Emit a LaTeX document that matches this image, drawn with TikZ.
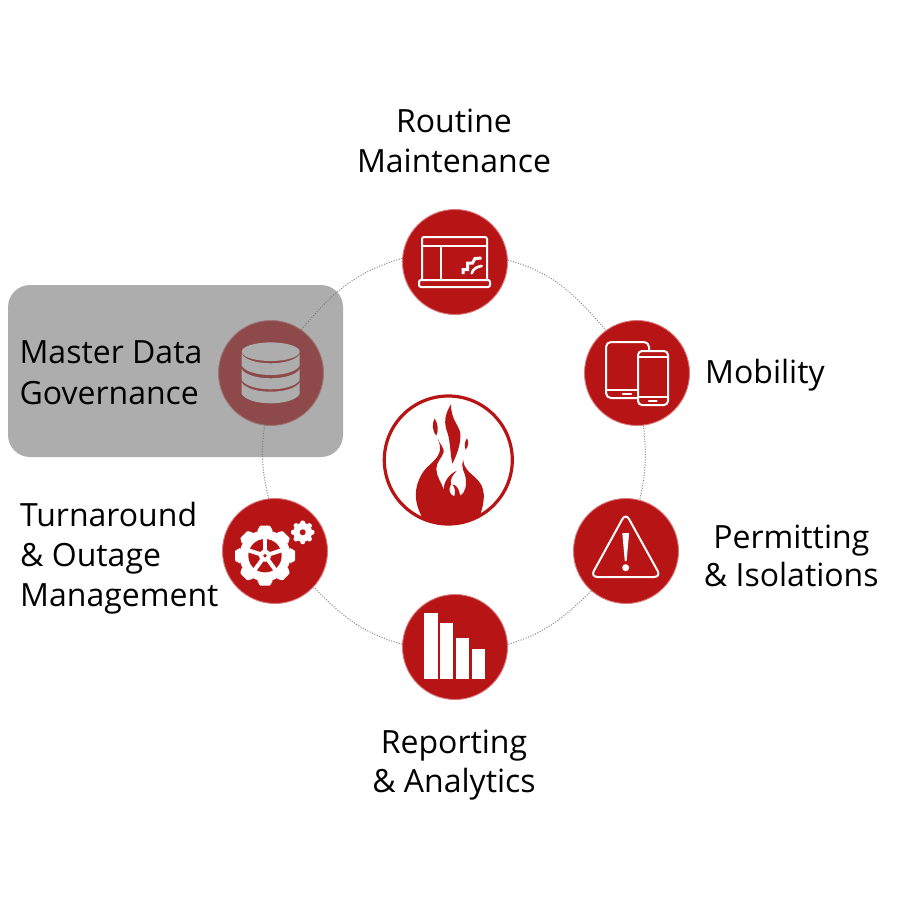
\documentclass[tikz,border=0pt]{standalone}
\usepackage{fontspec}
\setmainfont{Open Sans}
\definecolor{fire}{HTML}{B71515}
\definecolor{rimc}{HTML}{D9777A}
\definecolor{veil}{HTML}{727272}
\tikzset{
  hub/.style={circle,fill=fire,draw=rimc,line width=0.9pt,minimum size=105pt,inner sep=0pt},
  core/.style={circle,fill=white,draw=fire,line width=3.2pt,minimum size=128pt,inner sep=0pt},
  ring/.style={draw=black!48,line width=1pt,dash pattern=on 1pt off 1.6pt},
  iconline/.style={draw=white,line width=2pt,line join=round,line cap=round},
  label/.style={text=black,font=\fontsize{32}{40}\selectfont,inner sep=0pt,align=center},
  leftlabel/.style={label,align=left},
  veilbox/.style={fill=veil,fill opacity=0.58,rounded corners=22pt,minimum width=335pt,minimum height=172pt,inner sep=0pt}
}
\newcommand{\gearshape}[6]{%
  \begin{scope}[shift={(#1,#2)}]
    \fill[white] (0,0) circle (#3);
    \foreach \a in {0,45,...,315}{
      \fill[white,rotate=\a,rounded corners=0.8pt] (-#5,-#3+1) -- (-#6,-#4) -- (#6,-#4) -- (#5,-#3+1) -- cycle;
    }
  \end{scope}}
\begin{document}
\begin{tikzpicture}[x=1pt,y=-1pt]
\useasboundingbox (0,0) rectangle (900,900);
\fill[white] (0,0) rectangle (900,900);
% hubs
\node[hub] (top) at (455,262) {};
\node[hub] (mob) at (637,373) {};
\node[hub] (per) at (626,551) {};
\node[hub] (rep) at (455,647) {};
\node[hub] (tur) at (275,551) {};
\node[hub] (mas) at (271,373) {};
\node[core] (cen) at (448.3,460) {};
% connectors
\draw[ring] (top.2) to[out=-15,in=131] (mob.126);
\draw[ring] (mob.-83) to[out=-84,in=77] (per.75);
\draw[ring] (per.229) to[out=-136,in=16] (rep.3);
\draw[ring] (rep.177) to[out=164,in=-46] (tur.-43);
\draw[ring] (tur.97) to[out=103,in=-98] (mas.-97);
\draw[ring] (mas.55) to[out=50,in=196] (top.176);
% laptop icon
\draw[iconline,rounded corners=2pt] (422,280) -- (422,237) -- (487,237) -- (487,280);
\draw[iconline] (422,246) -- (487,246);
\draw[iconline] (441,246) -- (441,279);
\draw[iconline,rounded corners=2pt] (419,280) rectangle (490,287);
\draw[iconline,line width=3pt,line cap=butt,line join=miter] (463,274) -- (463,269.5) -- (467.5,269.5) -- (467.5,263) -- (472.5,263) -- (475,258.5) -- (481.5,258);
\draw[iconline,line width=2.6pt] (471.7,273.3) .. controls (473,269) and (477,266.5) .. (481.7,266);
% tablet and phone
\draw[iconline,rounded corners=5pt] (606,342) rectangle (649,398);
\draw[iconline] (606,390) -- (638,390);
\draw[iconline,line width=2.4pt] (623,393.8) -- (631,393.8);
\draw[iconline,fill=fire,rounded corners=4pt] (638,351) rectangle (668,405);
\draw[iconline,line width=1.6pt] (638,357) -- (668,357);
\draw[iconline,line width=1.6pt] (638,397) -- (668,397);
\draw[iconline,line width=2.4pt] (649,401) -- (656.5,401);
% warning icon
\draw[iconline,rounded corners=7pt] (625.7,513) -- (590.5,577) -- (661,577) -- cycle;
\fill[white] (622.3,533) -- (629.1,533) -- (626.6,561) -- (624.8,561) -- cycle;
\fill[white] (625.7,567.7) circle (3.5);
% bars
\fill[white] (424.3,613.3) rectangle (437.7,679);
\fill[white] (440,622.7) rectangle (453.3,679);
\fill[white] (455.7,638) rectangle (469.3,679);
\fill[white] (471.7,649.3) rectangle (485,679);
% gears
\gearshape{265}{555.7}{25.5}{30}{8}{5}
\fill[fire] (265,555.7) circle (16.7);
\begin{scope}[shift={(265,555.7)}]
  \foreach \a in {-90,-18,54,126,198}{
    \draw[white,line width=4pt] (0,0) -- (\a:18);
  }
  \fill[white] (0,0) circle (6);
  \fill[fire] (0,0) circle (1.9);
\end{scope}
\gearshape{302.7}{532.3}{9.5}{11.7}{2.8}{1.8}
\fill[fire] (302.7,532.3) circle (3);
% database
\fill[white] (270.7,351.7) ellipse (29 and 9.3);
\foreach \yt/\yb in {354/365.7,369/380,382.4/394}{
  \fill[white] (241.7,\yt) .. controls (249,\yt+12.4) and (292.4,\yt+12.4) .. (299.7,\yt)
    -- (299.7,\yb) .. controls (292.4,\yb+12.4) and (249,\yb+12.4) .. (241.7,\yb) -- cycle;
}
% flame
\begin{scope}
  \clip (448.3,460) circle (64);
  \begin{scope}[shift={(395,395)},x=0.3333pt,y=-0.3333pt]
    \fill[fire] (128,130) .. controls (132,145) and (150,160) .. (146,172)
      .. controls (140,190) and (124,200) .. (124,222)
      .. controls (124,245) and (140,262) .. (146,285)
      .. controls (146,262) and (160,238) .. (186,227)
      .. controls (172,240) and (164,255) .. (168,268)
      .. controls (158,285) and (165,300) .. (178,304)
      .. controls (182,290) and (180,278) .. (172,268)
      .. controls (190,270) and (192,290) .. (196,302)
      .. controls (210,295) and (216,270) .. (212,248)
      .. controls (210,232) and (196,220) .. (205,195)
      .. controls (206,222) and (225,232) .. (245,252)
      .. controls (270,275) and (275,310) .. (250,375)
      -- (250,410) -- (83,410) -- (83,370)
      .. controls (56,320) and (56,280) .. (80,238)
      .. controls (95,210) and (125,200) .. (134,170)
      .. controls (138,155) and (132,142) .. (128,130) -- cycle;
    \fill[fire] (168,28) .. controls (148,60) and (146,85) .. (158,115)
      .. controls (166,140) and (166,180) .. (172,206)
      .. controls (186,180) and (198,145) .. (196,115)
      .. controls (192,90) and (168,75) .. (168,28) -- cycle;
    \fill[fire] (119,70) .. controls (110,85) and (112,110) .. (124,122)
      .. controls (132,105) and (128,85) .. (119,70) -- cycle;
    \fill[fire] (216,130) .. controls (208,140) and (208,155) .. (212,164)
      .. controls (220,155) and (222,140) .. (216,130) -- cycle;
  \end{scope}
\end{scope}
% highlight
\node[veilbox] (box) at (175.5,371) {};
% labels
\node[label] (lroutine) at (454,141) {Routine\\Maintenance};
\node[leftlabel,anchor=west] (lmob) at (705,375) {Mobility};
\node[label,font=\fontsize{32}{37.5}\selectfont] (lper) at (791.3,556) {Permitting\\\& Isolations};
\node[label,font=\fontsize{32}{38.5}\selectfont] (lrep) at (454,765) {Reporting\\\& Analytics};
\node[leftlabel,anchor=west] (ltur) at (20,558.5) {Turnaround\\\& Outage\\Management};
\node[leftlabel,anchor=west,font=\fontsize{32}{41}\selectfont] (lmas) at (19.4,372.5) {Master Data\\Governance};
\end{tikzpicture}
\end{document}
